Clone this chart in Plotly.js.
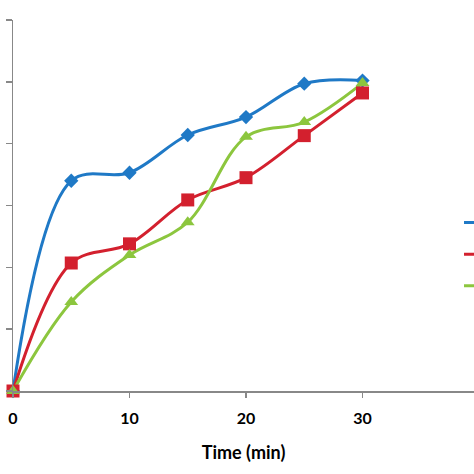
<!DOCTYPE html>
<html>
<head>
<meta charset="utf-8">
<script src="https://cdn.plot.ly/plotly-3.0.1.min.js"></script>
<style>html,body{margin:0;padding:0;background:#fff;}#chart{width:474px;height:474px;}</style>
</head>
<body>
<div id="chart"></div>
<script>
var time = [0, 5, 10, 15, 20, 25, 30];
var seriesNames = ["Series 1", "Series 2", "Series 3"];
var blueValues = [0, 34.0, 35.3, 41.4, 44.3, 49.7, 50.2];
var redValues = [0, 20.7, 23.8, 30.9, 34.5, 41.3, 48.2];
var greenValues = [0, 14.4, 22.0, 27.3, 41.1, 43.5, 49.8];
var xTicks = [0, 10, 20, 30, 40];
var yTicks = [0, 10, 20, 30, 40, 50, 60];

var colors = ['#1f79c6', '#d3202e', '#8cc63e'];
var symbols = ['diamond', 'square', 'triangle-up'];
var sizes = [11, 13, 12];
var allValues = [blueValues, redValues, greenValues];

var data = [];
allValues.forEach(function (vals, i) {
  data.push({
    x: time, y: vals, name: seriesNames[i], type: 'scatter', mode: 'lines',
    line: {color: colors[i], width: 3, shape: 'spline', smoothing: 1},
    cliponaxis: false, legendrank: i + 1
  });
});
allValues.forEach(function (vals, i) {
  data.push({
    x: time, y: vals, name: seriesNames[i], type: 'scatter', mode: 'markers',
    marker: {color: colors[i], symbol: symbols[i], size: sizes[i]},
    cliponaxis: false, showlegend: false
  });
});

var layout = {
  width: 474, height: 474,
  margin: {l: 13, r: 0, t: 20, b: 83, autoexpand: false},
  paper_bgcolor: '#ffffff', plot_bgcolor: '#ffffff',
  showlegend: true,
  legend: {x: 0.9675, xanchor: 'left', y: 0.51, yanchor: 'top',
           font: {family: 'Lato, sans-serif', size: 22, color: '#000'},
           bgcolor: 'rgba(0,0,0,0)'},
  xaxis: {
    range: [0, 39.57], tickvals: xTicks, ticktext: xTicks.map(String),
    showgrid: false, zeroline: false, showline: true, linecolor: '#888888', linewidth: 1.5,
    ticks: 'outside', ticklen: 5, tickcolor: '#888888', tickwidth: 1.5,
    tickfont: {family: 'Lato, sans-serif', size: 16, color: '#000', weight: 'bold'},
    ticklabelstandoff: 7,
    title: {text: '<b>Time (min)</b>', font: {family: 'Lato, sans-serif', size: 18, color: '#000'}, standoff: 20}
  },
  yaxis: {
    range: [0, 60], tickvals: yTicks, showticklabels: false,
    showgrid: false, zeroline: false, showline: true, linecolor: '#888888', linewidth: 1.5,
    ticks: 'outside', ticklen: 6, tickcolor: '#888888', tickwidth: 1.5
  }
};
Plotly.newPlot('chart', data, layout, {displayModeBar: false, staticPlot: true});
</script>
</body>
</html>
